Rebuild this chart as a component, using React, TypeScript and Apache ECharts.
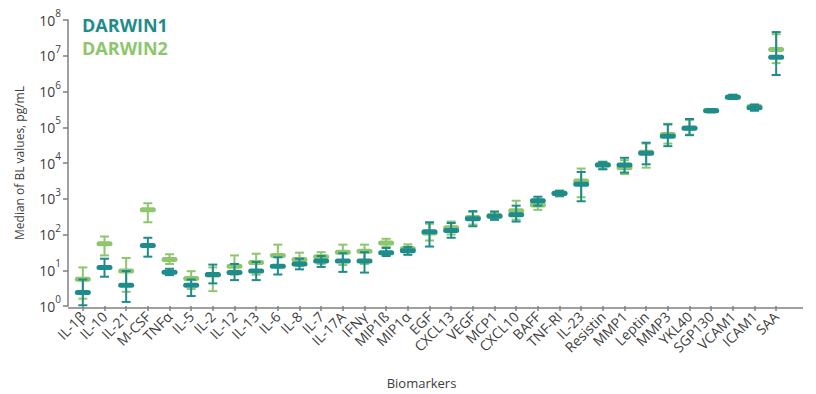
import React, { useEffect, useRef } from 'react';
import * as echarts from 'echarts';

const categories = [
  'IL-1β', 'IL-10', 'IL-21', 'M-CSF', 'TNFα', 'IL-5', 'IL-2', 'IL-12', 'IL-13', 'IL-6', 'IL-8',
  'IL-7', 'IL-17A', 'IFNγ', 'MIP1ß', 'MIP1α', 'EGF', 'CXCL13', 'VEGF', 'MCP1', 'CXCL10', 'BAFF',
  'TNF-RI', 'IL-23', 'Resistin', 'MMP1', 'Leptin', 'MMP3', 'YKL40', 'SGP130', 'VCAM1', 'ICAM1', 'SAA',
];

// DARWIN1 (teal): low / median / high
const darwin1Low = [1.05, 6.6, 1.3, 24, 7.3, 1.9, 4.3, 5.3, 5.3, 7.6, 10.6, 12.4, 9, 8.6, 25, 27, 46, 81, 170, 257, 230, 640, 1210, 850, 6650, 5400, 9200, 29600, 60000, 262000, 615000, 290000, 2.9e6];
const darwin1Med = [2.4, 12, 3.8, 49, 8.8, 3.8, 7.6, 8.6, 9.6, 13, 15, 18, 18, 18, 31, 35, 120, 130, 275, 325, 355, 880, 1410, 2560, 8800, 8800, 18600, 56000, 94000, 290000, 690000, 350000, 9.1e6];
const darwin1High = [5.5, 21, 9.5, 81, 11, 5.5, 14.4, 15, 17, 23, 21, 25, 30, 32, 42, 45, 220, 210, 450, 436, 640, 1140, 1660, 5600, 10600, 14000, 37000, 120000, 170000, 325000, 815000, 425000, 4.6e7];

// DARWIN2 (green): low / median / high
const darwin2Low = [1.6, 26, 2.5, 220, 15, 3, 2.6, 7.5, 7.5, 14, 13, 15, 14, 15, 45, 32, 68, 100, 190, 270, 260, 490, 1150, 1100, 6800, 4900, 7400, 35000, 62000, 265000, 620000, 300000, 6.2e6];
const darwin2Med = [5.6, 55, 9.5, 490, 20, 5.9, 7.4, 13, 16.5, 26, 20, 24, 32, 34, 58, 40, 110, 155, 300, 340, 460, 670, 1450, 3160, 9000, 7400, 20000, 63000, 95000, 295000, 700000, 380000, 1.5e7];
const darwin2High = [12, 88, 22, 750, 28, 9.4, 12, 26, 29, 52, 31, 32, 52, 52, 76, 53, 200, 230, 430, 440, 880, 950, 1700, 7000, 11000, 12000, 35000, 125000, 160000, 320000, 800000, 440000, 4.0e7];

const TEAL = '#1f8c8c';
const GREEN = '#8dc66d';
const AXIS = '#7f7f7f';
const TEXT = '#404040';
const FONT = '"Open Sans", "Noto Sans", sans-serif';

function buildData(low: number[], med: number[], high: number[]) {
  return categories.map((_, i) => [i, low[i], med[i], high[i]]);
}

function makeRender(color: string) {
  return (_params: any, api: any) => {
    const i = api.value(0);
    const lo = api.coord([i, api.value(1)]);
    const md = api.coord([i, api.value(2)]);
    const hi = api.coord([i, api.value(3)]);
    const x = md[0];
    const lineStyle = { stroke: color, lineWidth: 2 };
    return {
      type: 'group',
      children: [
        { type: 'line', shape: { x1: x, y1: lo[1], x2: x, y2: hi[1] }, style: lineStyle },
        { type: 'line', shape: { x1: x - 4.5, y1: lo[1], x2: x + 4.5, y2: lo[1] }, style: lineStyle },
        { type: 'line', shape: { x1: x - 4.5, y1: hi[1], x2: x + 4.5, y2: hi[1] }, style: lineStyle },
        { type: 'rect', shape: { x: x - 8, y: md[1] - 2.5, width: 16, height: 5, r: 2.5 }, style: { fill: color } },
      ],
    };
  };
}

export default function App() {
  const ref = useRef<HTMLDivElement>(null);
  useEffect(() => {
    if (!ref.current) return;
    const chart = echarts.init(ref.current, null, { renderer: 'svg' });
    chart.setOption({
      animation: false,
      backgroundColor: '#ffffff',
      textStyle: { fontFamily: FONT },
      legend: {
        orient: 'vertical',
        left: 72,
        top: 11,
        icon: 'none',
        itemWidth: 0,
        itemHeight: 0,
        itemGap: 5,
        selectedMode: false,
        data: [
          { name: 'DARWIN1', textStyle: { color: TEAL } },
          { name: 'DARWIN2', textStyle: { color: GREEN } },
        ],
        textStyle: { fontSize: 18, fontWeight: 'bold', fontFamily: FONT },
      },
      grid: { left: 72, right: 29, top: 20, bottom: 86, containLabel: false },
      xAxis: {
        type: 'category',
        data: categories,
        boundaryGap: true,
        name: 'Biomarkers',
        nameLocation: 'middle',
        nameGap: 70,
        nameTextStyle: { fontSize: 13, color: TEXT, fontFamily: FONT, padding: [0, 16, 0, 0] },
        axisLine: { show: false },
        axisTick: { show: true, alignWithLabel: true, length: 5, lineStyle: { color: AXIS, width: 1.5 } },
        axisLabel: { rotate: 45, fontSize: 14, color: TEXT, margin: 8, interval: 0, fontFamily: FONT },
        splitLine: { show: false },
      },
      yAxis: {
        type: 'log',
        logBase: 10,
        min: 1,
        max: 1e8,
        interval: 1,
        offset: 4,
        name: 'Median of BL values, pg/mL',
        nameLocation: 'middle',
        nameGap: 43,
        nameTextStyle: { fontSize: 12, color: TEXT, fontFamily: FONT },
        axisLine: { show: true, lineStyle: { color: AXIS, width: 1.5 } },
        axisTick: { show: true, length: 5, lineStyle: { color: AXIS, width: 1.5 } },
        minorTick: { show: false },
        splitLine: { show: false },
        axisLabel: {
          margin: 7,
          formatter: (v: number) => '{b|10}{s|' + Math.round(Math.log10(v)) + '}',
          rich: {
            b: { fontSize: 14, color: TEXT, fontFamily: FONT },
            s: { fontSize: 10, color: TEXT, fontFamily: FONT, padding: [0, 0, 14, 0] },
          },
        },
      },
      graphic: [
        {
          type: 'line',
          shape: { x1: 68, y1: 308, x2: 803, y2: 308 },
          style: { stroke: AXIS, lineWidth: 1.5 },
          z: 5,
        },
      ],
      series: [
        {
          name: 'DARWIN2',
          type: 'custom',
          color: GREEN,
          renderItem: makeRender(GREEN),
          encode: { x: 0, y: [1, 2, 3] },
          data: buildData(darwin2Low, darwin2Med, darwin2High),
          z: 2,
        },
        {
          name: 'DARWIN1',
          type: 'custom',
          color: TEAL,
          renderItem: makeRender(TEAL),
          encode: { x: 0, y: [1, 2, 3] },
          data: buildData(darwin1Low, darwin1Med, darwin1High),
          z: 3,
        },
      ],
    });
    return () => chart.dispose();
  }, []);
  return (
    <div
      ref={ref}
      style={{ position: 'fixed', left: 0, top: 0, width: 816, height: 394, background: '#fff' }}
    />
  );
}
